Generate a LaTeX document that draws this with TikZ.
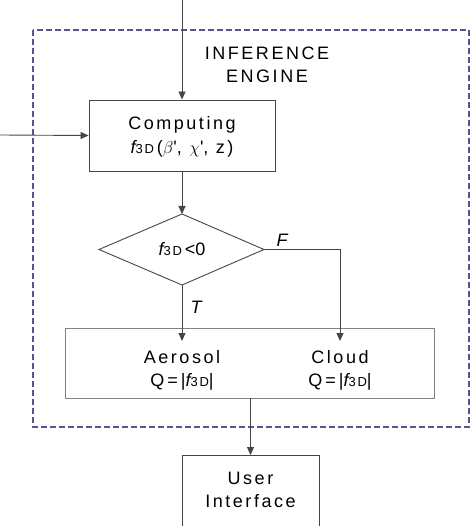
\documentclass[tikz,border=0pt]{standalone}
\usepackage{fontspec}
\setmainfont{Liberation Sans}[LetterSpace=14]
\newfontfamily\plainsans{Liberation Sans}
\usetikzlibrary{arrows.meta}
\definecolor{dashblue}{RGB}{85,85,145}
\definecolor{linegray}{RGB}{70,70,70}
\definecolor{boxgray}{RGB}{130,130,130}
\newcommand{\fthreed}{{\plainsans\itshape f}{\fontsize{13}{13}\selectfont 3D}}
\begin{document}
\begin{tikzpicture}[x=1pt,y=-1pt,
  font=\fontsize{18}{23}\selectfont,
  flowbox/.style={draw=linegray,line width=0.9pt,align=center,inner sep=0pt},
  conn/.style={draw=linegray,line width=0.9pt,-{Triangle[length=8pt,width=7pt]}},
  lbl/.style={inner sep=0pt,font=\fontsize{18}{23}\selectfont\plainsans\itshape}]
\useasboundingbox (0,0) rectangle (474,526);
\fill[white] (0,0) rectangle (474,526);
% dashed engine frame
\draw[dashblue,line width=1.5pt,dash pattern=on 6pt off 3pt] (33,30) rectangle (469,427);
\node[inner sep=0pt,align=center] (title) at (267,65) {INFERENCE\\ENGINE};
% computing box
\node[flowbox,minimum width=186pt,minimum height=71pt] (comp) at (182,135.5) {};
\node[inner sep=0pt,align=center] (comptext) at (182,137) {Computing\\[1pt]\fthreed\,($\beta$\textquotesingle, $\chi$\textquotesingle, z)};
% diamond
\coordinate (dt) at (182,214);
\coordinate (dl) at (99,249.5);
\coordinate (dr) at (264,249.5);
\coordinate (db) at (182,285);
\draw[linegray,line width=0.9pt] (dt) -- (dr) -- (db) -- (dl) -- cycle;
\node[inner sep=0pt] (cond) at (182,249) {\fthreed{\plainsans\,<0}};
% result box
\node[draw=boxgray,line width=0.9pt,minimum width=369pt,minimum height=70pt,inner sep=0pt] (res) at (249.5,363) {};
\node[inner sep=0pt,align=center] (aer) at (182,370) {Aerosol\\Q\,=\,\textbar\fthreed\textbar};
\node[inner sep=0pt,align=center] (cld) at (340,370) {Cloud\\Q\,=\,\textbar\fthreed\textbar};
\coordinate (aerin) at (182,341);
\coordinate (cldin) at (340,341);
% user interface box
\node[flowbox,minimum width=137pt,minimum height=90pt,anchor=north] (ui) at (250.5,455) {};
\node[inner sep=0pt,align=center] (uitext) at (250.5,490) {User\\Interface};
% inputs
\coordinate (topin) at (182,0);
\coordinate (leftin) at (0,135);
\draw[conn] (topin) -- (comp.north);
\draw[conn] (leftin) -- (comp.west);
\draw[conn] (comp.south) -- (dt);
\draw[conn] (db) -- (aerin);
\draw[conn] (dr) -| (cldin);
\draw[conn] (res.south -| ui.north) -- (ui.north);
\node[lbl] (F) at (282,240) {F};
\node[lbl] (T) at (196,307) {T};
\end{tikzpicture}
\end{document}
